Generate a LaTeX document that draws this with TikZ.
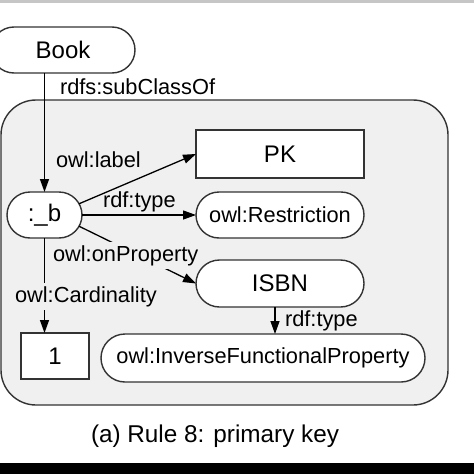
\documentclass[tikz,border=0pt]{standalone}
\usepackage{fontspec}
\setmainfont{Liberation Sans}
\usetikzlibrary{arrows.meta,shapes.misc,calc}
\definecolor{linec}{HTML}{333333}
\definecolor{panel}{HTML}{F0F0F0}
\begin{document}
\begin{tikzpicture}[x=1pt,y=-1pt,
  every node/.style={inner sep=0pt, outer sep=0pt},
  box/.style={draw=linec, line width=1.4pt, fill=white, font=\fontsize{24}{28}\selectfont},
  pill/.style={box, rounded rectangle},
  sq/.style={box, rectangle},
  lbl/.style={font=\fontsize{21.8}{26}\selectfont, anchor=base west},
  masklbl/.style={lbl, fill=panel, inner xsep=2pt, inner ysep=3pt},
  small/.style={font=\fontsize{21.8}{26}\selectfont},
  arr/.style={draw=black, line width=1.3pt, -{Triangle[length=13pt,width=9pt]}}]
\useasboundingbox (0,0) rectangle (474,474);
\clip (0,0) rectangle (474,474);
\fill[white] (0,0) rectangle (474,474);
\fill[gray!45] (0,0) rectangle (474,3);
\fill[black] (0,463) rectangle (474,474);
% container
\draw[draw=linec, line width=1.4pt, fill=panel, rounded corners=35pt] (1,100) rectangle (448,405);
% nodes
\node[pill, minimum width=144pt, minimum height=46pt] (book) at (63,50) {Book};
\node[pill, minimum width=75pt, minimum height=46pt] (b) at (44.5,215) {:\_b};
\node[sq, minimum width=168pt, minimum height=48pt] (pk) at (280,154) {PK};
\node[pill, small, minimum width=168pt, minimum height=46pt] (restr) at (280,215) {owl:Restriction};
\node[pill, minimum width=168pt, minimum height=47pt] (isbn) at (280,283.5) {ISBN};
\node[sq, minimum width=68pt, minimum height=46pt] (one) at (55,356) {1};
\node[pill, small, minimum width=324pt, minimum height=48pt] (ifp) at (263,358) {owl:InverseFunctionalProperty};
% connectors
\draw[arr] (b.north |- book.south) -- (b.north);
\draw[arr] (b.18) -- (pk.west);
\draw[arr] (b.east) -- (restr.west);
\draw[arr] (b.-18) -- (isbn.west);
\draw[arr] (b.south) -- (b.south |- one.north);
\coordinate (isbnout) at ($(isbn.south)+(-5,0)$);
\draw[arr] (isbnout) -- (isbnout |- ifp.north);
% labels
\node[lbl] (l1) at (60,94) {rdfs:subClassOf};
\node[lbl] (l2) at (56,167) {owl:label};
\node[lbl] (l3) at (103,207) {rdf:type};
\node[masklbl] (l4) at (51,261) {owl:onProperty};
\node[masklbl] (l5) at (13,302) {owl:Cardinality};
\node[lbl] (l6) at (285,326) {rdf:type};
\node[anchor=base west, font=\fontsize{24.3}{28}\selectfont] (cap) at (91,442) {(a) Rule 8: primary key};
\end{tikzpicture}
\end{document}
